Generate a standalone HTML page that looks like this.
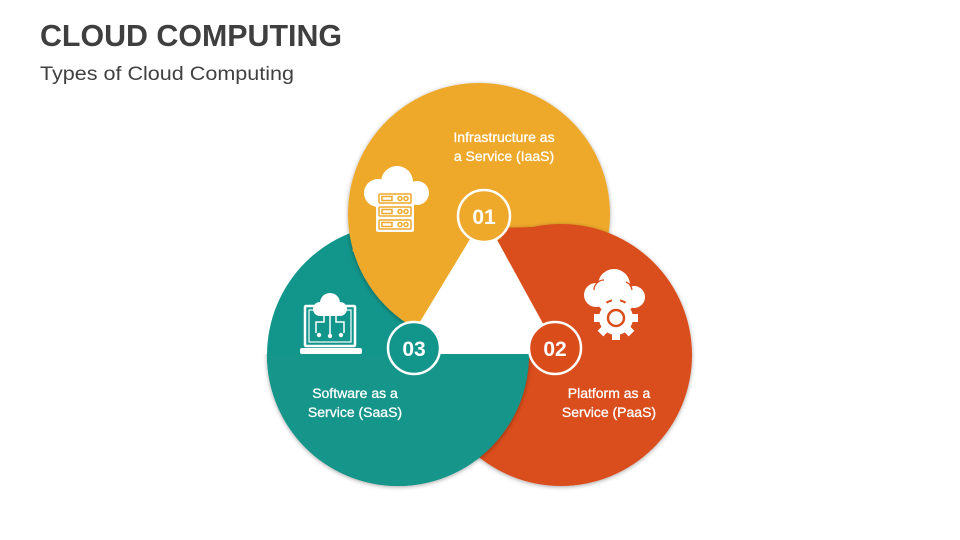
<!DOCTYPE html>
<html><head><meta charset="utf-8"><style>
html,body{margin:0;padding:0;background:#fff;}
svg{display:block;}
</style></head><body>
<svg width="960" height="540" viewBox="0 0 960 540" xmlns="http://www.w3.org/2000/svg">
<defs>
<clipPath id="below"><rect x="0" y="354" width="960" height="200"/></clipPath>
<filter id="sh" x="-20%" y="-20%" width="140%" height="140%"><feDropShadow dx="0" dy="1" stdDeviation="2" flood-color="#000" flood-opacity="0.35"/></filter>
</defs>
<text x="40" y="46" font-family="Liberation Sans, sans-serif" font-weight="bold" font-size="31" fill="#3f3f3f" textLength="302" lengthAdjust="spacingAndGlyphs">CLOUD COMPUTING</text>
<text x="40" y="80" font-family="Liberation Sans, sans-serif" font-size="19" fill="#404040" textLength="254" lengthAdjust="spacingAndGlyphs">Types of Cloud Computing</text>

<!-- teal base -->
<circle cx="398" cy="355" r="131" fill="#12958A"/>
<!-- orange -->
<g filter="url(#sh)">
<circle cx="479" cy="214" r="131" fill="#EEA92B"/>
<polygon points="412,322 484,216 352,250" fill="#EEA92B"/>
</g>
<!-- red -->
<g filter="url(#sh)">
<circle cx="561" cy="355" r="131" fill="#DA4D1B"/>
<polygon points="497,228 555,350 575,226" fill="#DA4D1B"/>
</g>
<!-- teal over red at bottom -->
<g clip-path="url(#below)" filter="url(#sh)">
<circle cx="398" cy="355" r="131" fill="#12958A"/>
</g>
<rect x="414" y="354" width="115" height="6" fill="#12958A"/>
<!-- white triangle -->
<polygon points="484,216 412,335 414,354 555,354 552,340" fill="#fff"/>

<!-- number circles -->
<g font-family="Liberation Sans, sans-serif" font-weight="bold" font-size="21" fill="#fff" text-anchor="middle">
<circle cx="484" cy="216" r="26" fill="#EEA92B" stroke="#fff" stroke-width="2.5"/>
<text x="484" y="224">01</text>
<circle cx="555" cy="348" r="26" fill="#DA4D1B" stroke="#fff" stroke-width="2.5"/>
<text x="555" y="356">02</text>
<circle cx="414" cy="348" r="26" fill="#12958A" stroke="#fff" stroke-width="2.5"/>
<text x="414" y="356">03</text>
</g>

<!-- labels -->
<g font-family="Liberation Sans, sans-serif" font-size="14" fill="#fff" text-anchor="middle" stroke="#fff" stroke-width="0.3">
<text x="504" y="142">Infrastructure as</text>
<text x="504" y="161">a Service (IaaS)</text>
<text x="355" y="398">Software as a</text>
<text x="355" y="417">Service (SaaS)</text>
<text x="609" y="398">Platform as a</text>
<text x="609" y="417">Service (PaaS)</text>
</g>

<!-- server icon -->
<g fill="#fff">
<circle cx="397" cy="182" r="16"/>
<circle cx="378" cy="193" r="14"/>
<circle cx="417" cy="193" r="12"/>
<rect x="378" y="188" width="38" height="14"/>
<rect x="376" y="190" width="38" height="42" rx="2" fill="#fff"/>
</g>
<g fill="none" stroke="#EEA92B" stroke-width="1.5">
<rect x="379" y="194" width="32" height="9" rx="1"/>
<rect x="379" y="207" width="32" height="9" rx="1"/>
<rect x="379" y="220" width="32" height="9" rx="1"/>
<rect x="382" y="196.5" width="10" height="4"/><circle cx="400" cy="198.5" r="2"/><circle cx="406" cy="198.5" r="2"/>
<rect x="382" y="209.5" width="10" height="4"/><circle cx="400" cy="211.5" r="2"/><circle cx="406" cy="211.5" r="2"/>
<rect x="382" y="222.5" width="10" height="4"/><circle cx="400" cy="224.5" r="2"/><circle cx="406" cy="224.5" r="2"/>
</g>

<!-- laptop icon -->
<g fill="none" stroke="#fff" stroke-width="2.5">
<rect x="305" y="306" width="50" height="40" rx="1"/>
<rect x="309" y="310" width="42" height="32" stroke-width="1.2"/>
<path d="M330 314 V335 M324 314 V322 H316 V333 M336 314 V322 H344 V333" stroke-width="1.5"/>
</g>
<g fill="#fff">
<circle cx="319" cy="335" r="2.2"/><circle cx="330" cy="336" r="2.2"/><circle cx="341" cy="335" r="2.2"/>
<rect x="300" y="348" width="62" height="6" rx="2"/>
<circle cx="330" cy="303" r="10"/><circle cx="320" cy="309" r="7"/><circle cx="340" cy="309" r="7"/>
<rect x="320" y="306" width="20" height="10"/>
</g>

<!-- cloud gear icon -->
<g fill="#fff">
<circle cx="614" cy="285" r="16"/>
<circle cx="596" cy="295" r="12"/>
<circle cx="634" cy="297" r="11"/>
<rect x="590" y="292" width="50" height="14" rx="6"/>
</g>
<g fill="none" stroke="#DA4D1B" stroke-width="1.3">
<path d="M594 290 A10 10 0 0 1 604 280"/><path d="M626 282 A10 10 0 0 1 632 290"/>
</g>
<g fill="#fff" stroke="#DA4D1B" stroke-width="2">
<circle cx="616" cy="318" r="18"/>
</g>
<g fill="#fff">
<rect x="612" y="296" width="8" height="44"/>
<rect x="594" y="314" width="44" height="8"/>
<rect x="612" y="296" width="8" height="44" transform="rotate(45 616 318)"/>
<rect x="612" y="296" width="8" height="44" transform="rotate(-45 616 318)"/>
<circle cx="616" cy="318" r="16"/>
</g>
<circle cx="616" cy="318" r="8" fill="none" stroke="#DA4D1B" stroke-width="2.5"/>
</svg>
</body></html>
